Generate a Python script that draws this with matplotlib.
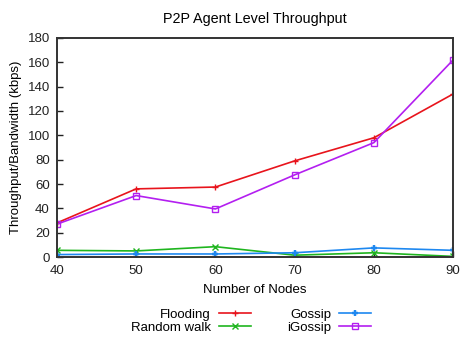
import matplotlib.pyplot as plt

plt.rcParams['font.family'] = ['Liberation Sans', 'DejaVu Sans']

# ==========================
# DATA
# ==========================

nodes = [40, 50, 60, 70, 80, 90]

flooding = [28, 56, 57.5, 79, 98, 134]
random_walk = [5.5, 5, 8.5, 1.5, 3.5, 0.5]
gossip = [2, 2.5, 2.5, 3.5, 7.5, 5.5]
igossip = [27, 50.5, 39.5, 67.5, 94, 162]

y_ticks = [0, 20, 40, 60, 80, 100, 120, 140, 160, 180]

# ==========================
# FIGURE
# ==========================

fig = plt.figure(figsize=(4.74, 3.38), dpi=100)
ax = fig.add_axes([0.120, 0.2396, 0.836, 0.648])

lw = 1.2
ms = 5

ax.plot(nodes, flooding, color="#e8141c", lw=lw, marker="+", ms=ms,
        mew=1.0, label="Flooding")
ax.plot(nodes, random_walk, color="#1fb51f", lw=lw, marker="x", ms=4,
        mew=1.0, label="Random walk")
ax.plot(nodes, gossip, color="#1e88f0", lw=lw, marker=(4, 2, 0), ms=ms,
        mew=1.6, label="Gossip")
ax.plot(nodes, igossip, color="#b31ff0", lw=lw, marker="s", ms=4.5,
        mfc="none", mew=1.0, label="iGossip")

ax.set_xlim(40, 90)
ax.set_ylim(0, 180)
ax.set_xticks(nodes)
ax.set_yticks(y_ticks)

ax.tick_params(direction="in", length=4, width=1.0, labelsize=9.5,
               colors="#222222", top=False, right=False, pad=5)
ax.tick_params(axis="x", pad=6)
for sp in ax.spines.values():
    sp.set_linewidth(1.4)
    sp.set_color("#333333")

ax.set_title("P2P Agent Level Throughput", fontsize=10.4, pad=11)
ax.set_xlabel("Number of Nodes", fontsize=9.5, labelpad=5)
ax.set_ylabel("Throughput/Bandwidth (kbps)", fontsize=9.5, labelpad=4)

ax.legend(loc="upper center", bbox_to_anchor=(0.49, -0.205), ncol=2,
          frameon=False, markerfirst=False, fontsize=9.5,
          handlelength=2.4, columnspacing=2.8, handletextpad=0.6,
          labelspacing=0.05, borderpad=0)

fig.savefig("out.png", dpi=100)
